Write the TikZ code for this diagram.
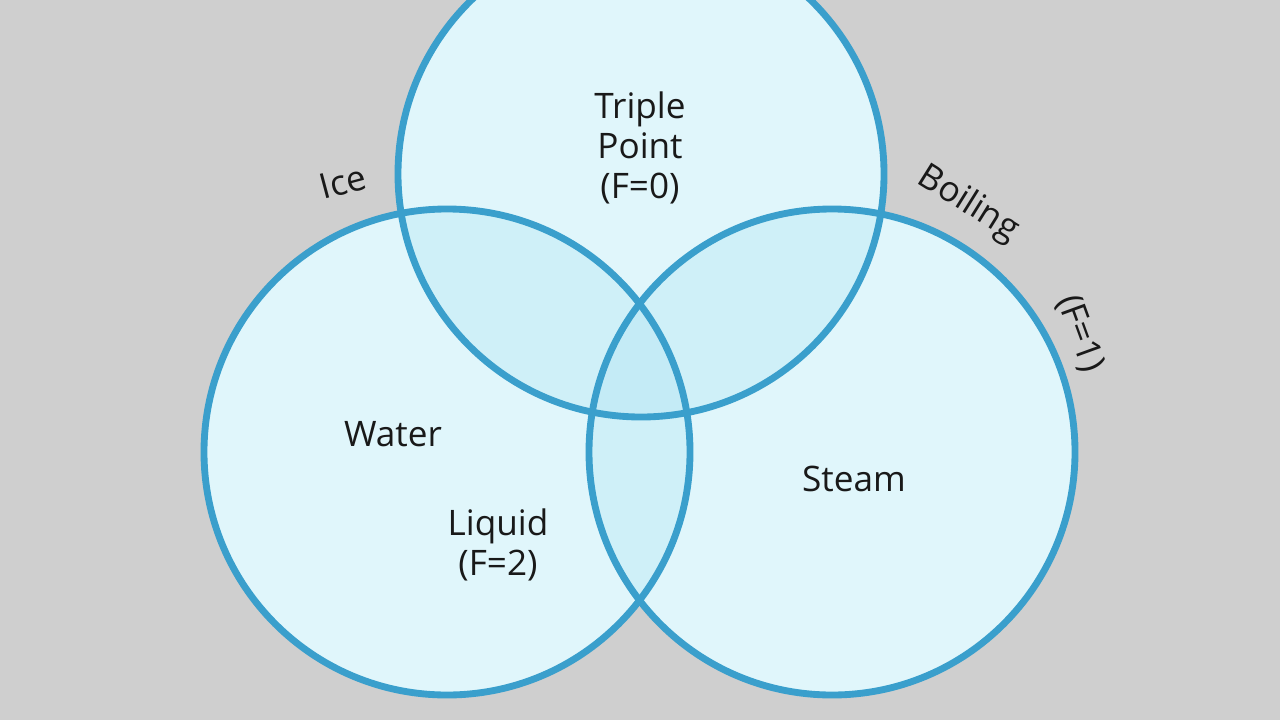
\documentclass[tikz,border=0pt]{standalone}
\usepackage{fontspec}
\setmainfont{Open Sans}
\definecolor{bg}{HTML}{CFCFCF}
\definecolor{one}{HTML}{E0F6FB}
\definecolor{two}{HTML}{CFF0F8}
\definecolor{three}{HTML}{C4EBF6}
\definecolor{ring}{HTML}{3A9FCC}
\tikzset{ringline/.style={draw=ring,line width=3.9pt},
lbl/.style={font=\fontsize{20}{23}\selectfont,text=black!90,align=center,inner sep=0}}
\begin{document}
\begin{tikzpicture}[x=0.02cm,y=-0.02cm]
\fill[bg] (0,0) rectangle (1280,720);
\useasboundingbox (0,0) rectangle (1280,720);
\coordinate (T) at (641,174);
\coordinate (L) at (447,452);
\coordinate (R) at (832,452);
\def\r{243}
\foreach \c in {T,L,R} \fill[one] (\c) circle (\r);
\begin{scope}\clip (T) circle (\r); \fill[two] (L) circle (\r); \fill[two] (R) circle (\r);\end{scope}
\begin{scope}\clip (L) circle (\r); \fill[two] (R) circle (\r);\end{scope}
\begin{scope}\clip (T) circle (\r); \clip (L) circle (\r); \fill[three] (R) circle (\r);\end{scope}
\foreach \c in {T,L,R} \draw[ringline] (\c) circle (\r);
\node[lbl] (tp) at (640,148) {Triple\\Point\\(F=0)};
\node[lbl] (wa) at (393,434) {Water};
\node[lbl] (li) at (498,545) {Liquid\\(F=2)};
\node[lbl] (st) at (854,479) {Steam};
\node[lbl,rotate=15] (ice) at (343,182) {Ice};
\node[lbl,rotate=-32] (bo) at (968,204) {Boiling};
\node[lbl,rotate=-70] (f1) at (1080,334) {(F=1)};
\end{tikzpicture}
\end{document}
